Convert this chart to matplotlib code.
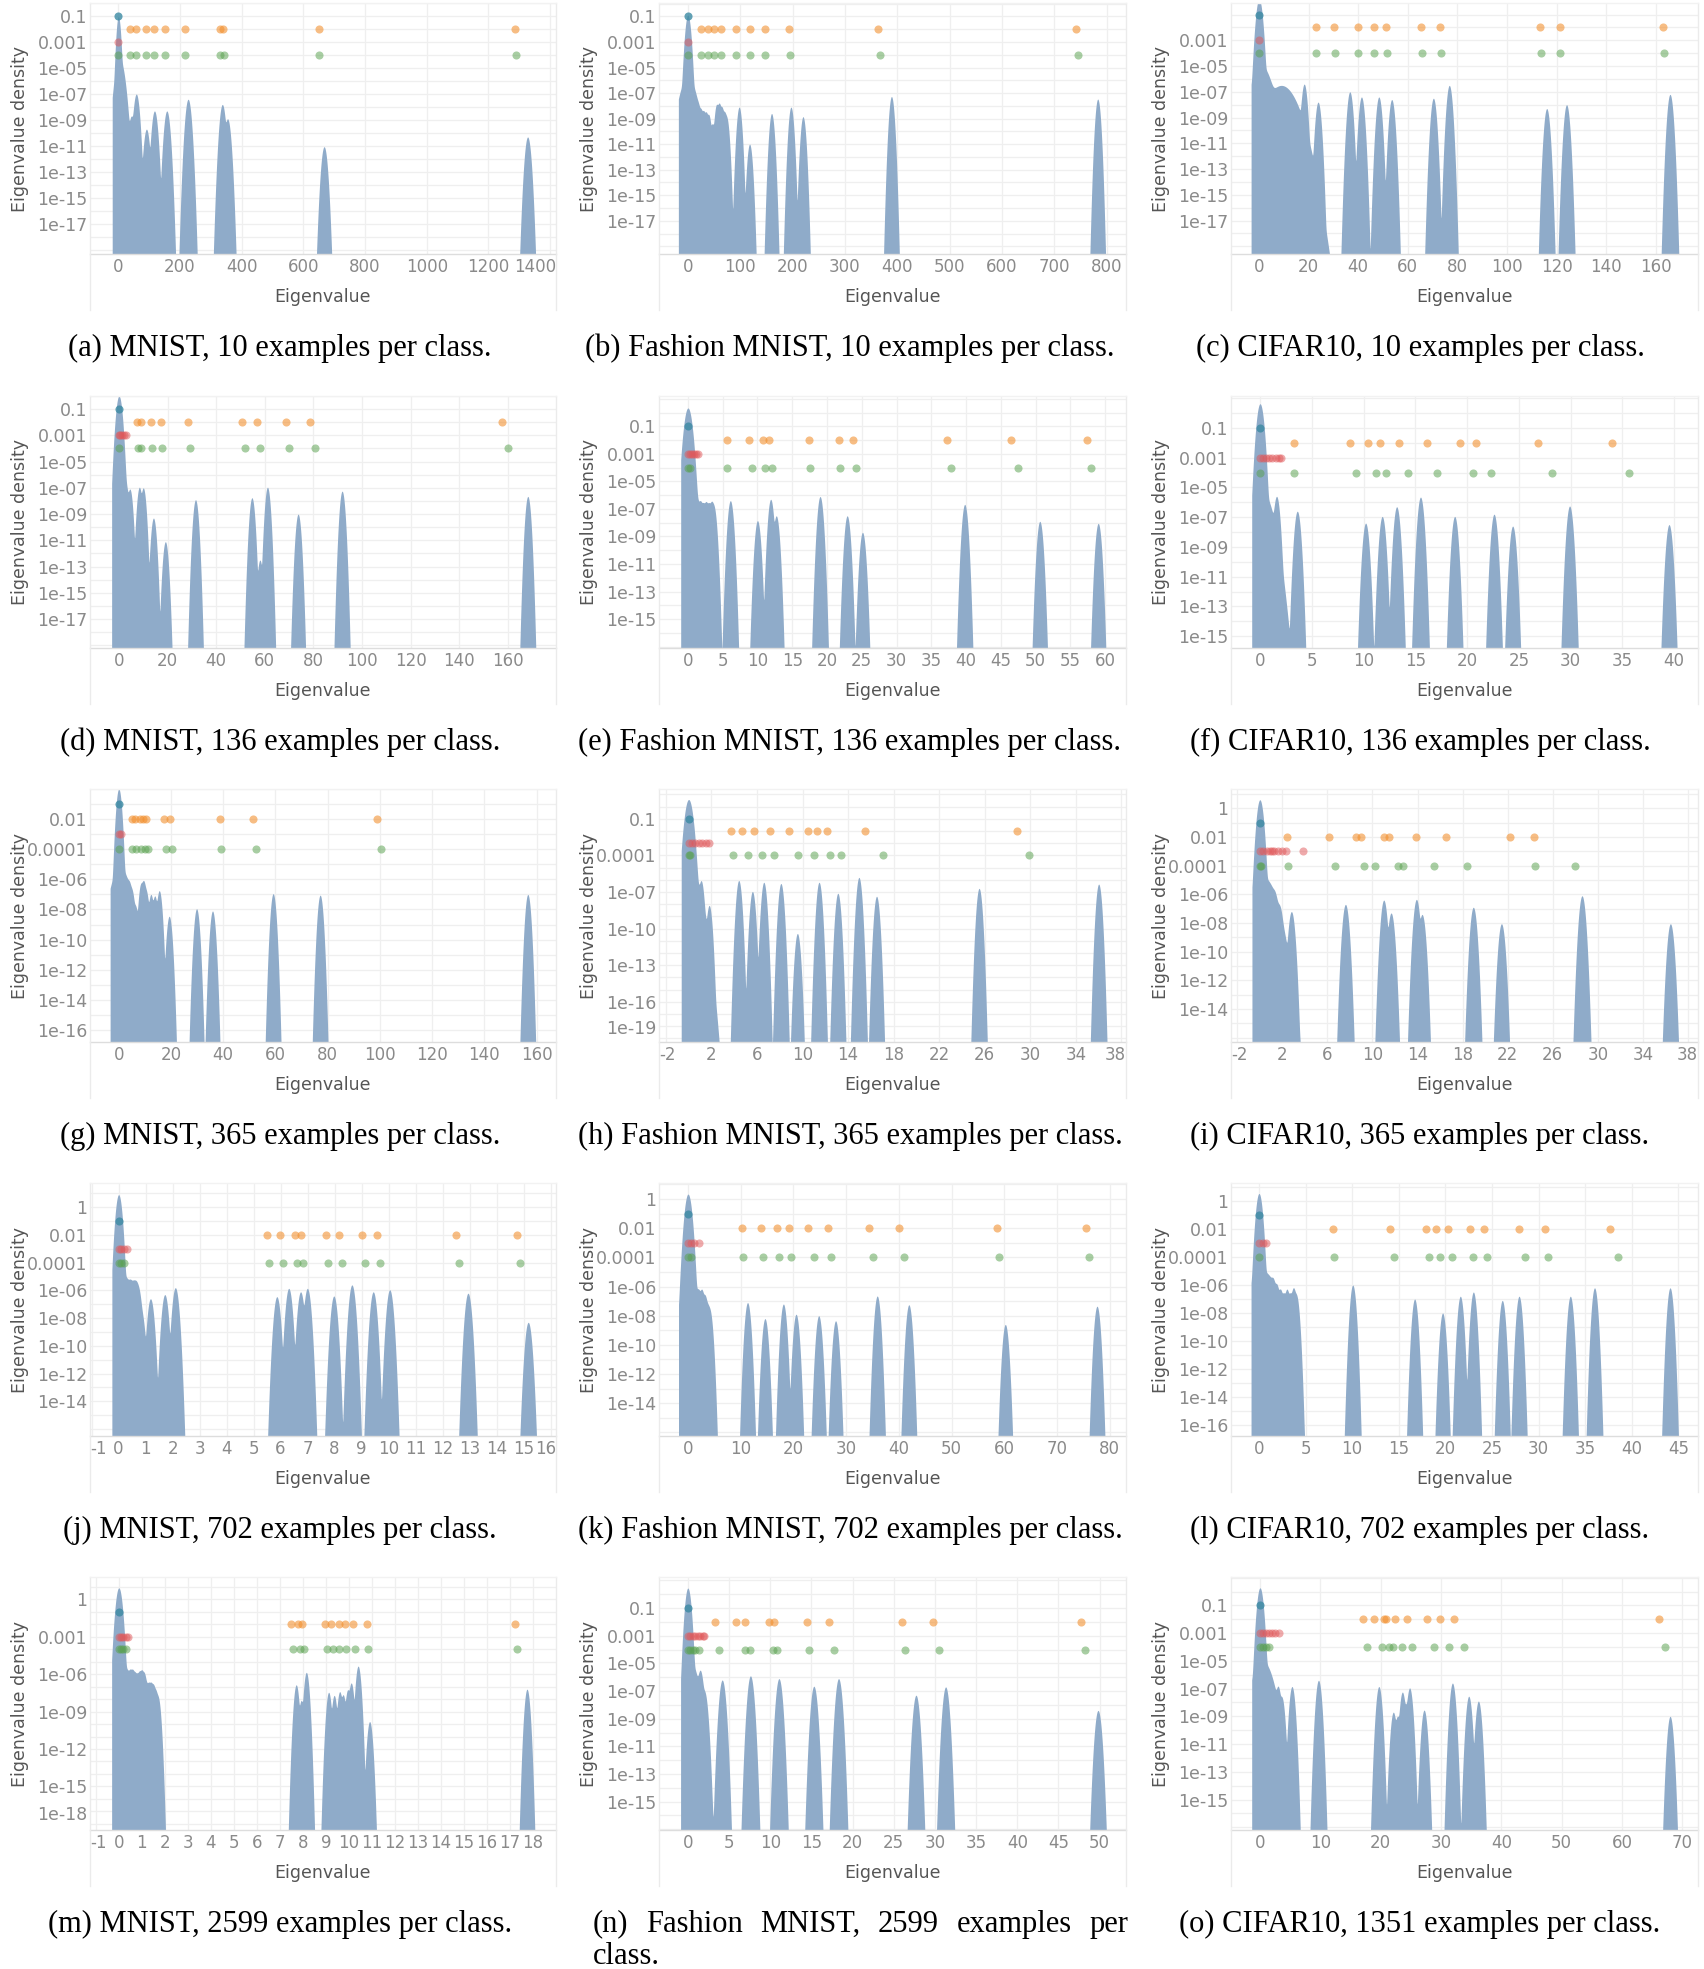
import matplotlib
matplotlib.use("Agg")
import matplotlib.pyplot as plt
import numpy as np
from matplotlib.lines import Line2D
from matplotlib.ticker import NullLocator

plt.rcParams["font.family"] = ["DejaVu Sans"]

PANELS = "abcdefghijklmno"

CAPTIONS = {
    "a": "(a) MNIST, 10 examples per class.",
    "b": "(b) Fashion MNIST, 10 examples per class.",
    "c": "(c) CIFAR10, 10 examples per class.",
    "d": "(d) MNIST, 136 examples per class.",
    "e": "(e) Fashion MNIST, 136 examples per class.",
    "f": "(f) CIFAR10, 136 examples per class.",
    "g": "(g) MNIST, 365 examples per class.",
    "h": "(h) Fashion MNIST, 365 examples per class.",
    "i": "(i) CIFAR10, 365 examples per class.",
    "j": "(j) MNIST, 702 examples per class.",
    "k": "(k) Fashion MNIST, 702 examples per class.",
    "l": "(l) CIFAR10, 702 examples per class.",
    "m": "(m) MNIST, 2599 examples per class.",
    "n": "(n) Fashion MNIST, 2599 examples per class.",
    "o": "(o) CIFAR10, 1351 examples per class.",
}

X_TICKS = {
    "a": list(range(0, 1401, 200)),
    "b": list(range(0, 801, 100)),
    "c": list(range(0, 161, 20)),
    "d": list(range(0, 161, 20)),
    "e": list(range(0, 61, 5)),
    "f": list(range(0, 41, 5)),
    "g": list(range(0, 161, 20)),
    "h": list(range(-2, 39, 4)),
    "i": list(range(-2, 39, 4)),
    "j": list(range(-1, 17)),
    "k": list(range(0, 81, 10)),
    "l": list(range(0, 46, 5)),
    "m": list(range(-1, 19)),
    "n": list(range(0, 51, 5)),
    "o": list(range(0, 71, 10)),
}

# exponents (base 10) of the labelled density ticks
Y_TICK_EXP = {
    "a": list(range(-1, -18, -2)),
    "b": list(range(-1, -18, -2)),
    "c": list(range(-3, -18, -2)),
    "d": list(range(-1, -18, -2)),
    "e": list(range(-1, -16, -2)),
    "f": list(range(-1, -16, -2)),
    "g": list(range(-2, -17, -2)),
    "h": list(range(-1, -20, -3)),
    "i": list(range(0, -15, -2)),
    "j": list(range(0, -15, -2)),
    "k": list(range(0, -15, -2)),
    "l": list(range(0, -17, -2)),
    "m": list(range(0, -19, -3)),
    "n": list(range(-1, -16, -2)),
    "o": list(range(-1, -16, -2)),
}

# spectral density: broad components around zero (own widths) ...
SPIKE_X = {
    "a": [0, 4], "b": [0, 0], "c": [0, 1, 9], "d": [0, 0.5], "e": [0, 0.3],
    "f": [0, 0.2], "g": [0, 0.5], "h": [0, 0.3], "i": [0, 0.3], "j": [0, 0.1],
    "k": [0, 0.3], "l": [0, 0.4], "m": [0, 0.1], "n": [0, 0.3], "o": [0, 0.4],
}
SPIKE_LOGY = {
    "a": [-1.05, -4.3], "b": [-0.9, -5.8], "c": [0.2, -5.0, -6.5], "d": [0.0, -5.2],
    "e": [0.33, -5.2], "f": [0.63, -5.3], "g": [0.0, -5.2], "h": [0.59, -5.6],
    "i": [0.6, -4.8], "j": [0.91, -4.8], "k": [0.34, -5.3], "l": [0.55, -5.0],
    "m": [0.93, -5.2], "n": [0.45, -4.9], "o": [0.27, -5.0],
}
SPIKE_SIGMA = {
    "a": [3.0, 6.5], "b": [2.3, 6.5], "c": [0.55, 1.6, 2.5], "d": [0.54, 1.0],
    "e": [0.25, 0.5], "f": [0.15, 0.4], "g": [0.46, 1.5], "h": [0.148, 0.3],
    "i": [0.13, 0.45], "j": [0.05, 0.18], "k": [0.3, 0.65], "l": [0.15, 0.6],
    "m": [0.06, 0.2], "n": [0.16, 0.38], "o": [0.23, 0.7],
}

# ... and the narrow humps (shared kernel width per panel)
HUMP_X = {
    "a": [42, 58, 91, 117, 157, 226, 337, 354, 667, 1327],
    "b": [20, 25, 30, 35, 40, 47, 55, 60, 65, 70, 74, 98, 118, 160, 197, 220, 389, 783],
    "c": [18.2, 23.8, 36.6, 41.3, 48.3, 53.5, 70.3, 76.7, 116, 124, 165.7],
    "d": [4.5, 8.4, 10.0, 14.2, 19.1, 31.5, 54.7, 58.0, 61.1, 73.7, 91.8, 168.2],
    "e": [1.8, 2.2, 2.6, 3.0, 3.4, 3.7, 6.1, 10.0, 11.9, 12.7, 19.0, 22.9, 25.1, 39.8, 50.6, 59.0],
    "f": [1.6, 3.6, 10.2, 11.8, 13.2, 15.5, 18.8, 22.6, 24.4, 29.9, 39.5],
    "g": [4.0, 5.0, 6.4, 8.5, 9.5, 10.5, 12.3, 13.8, 15.5, 19.3, 29.8, 35.9, 59.1, 77.1, 156.6],
    "h": [1.1, 1.8, 4.4, 5.6, 6.6, 8.1, 9.55, 11.45, 13.1, 14.95, 16.5, 25.5, 36.0],
    "i": [1.3, 1.75, 2.8, 7.6, 11.0, 11.65, 13.9, 14.4, 18.95, 21.45, 28.6, 36.45],
    "j": [0.44, 0.55, 0.64, 0.72, 0.84, 1.18, 1.71, 2.1, 5.86, 6.3, 6.74, 6.99,
          7.97, 8.64, 9.43, 10.04, 12.94, 15.17],
    "k": [2.0, 2.6, 3.2, 3.7, 4.1, 11.3, 14.6, 18.1, 20.5, 24.8, 28.0, 35.9, 41.9, 60.2, 77.6],
    "l": [1.5, 1.9, 2.3, 2.65, 3.0, 3.35, 3.7, 4.0, 10.06, 16.7, 19.7, 21.6, 23.0,
          26.1, 27.9, 33.4, 36.0, 44.1],
    "m": [0.5, 0.6, 0.7, 0.8, 0.9, 1.0, 1.1, 1.2, 1.3, 1.4, 1.5, 1.6, 1.7, 7.71, 7.93,
          8.15, 9.12, 9.36, 9.6, 9.75, 9.95, 10.1, 10.4, 10.9, 17.74],
    "n": [1.5, 2.0, 4.17, 7.6, 11.06, 15.3, 18.3, 27.7, 31.3, 49.8],
    "o": [3.0, 3.6, 5.3, 9.7, 19.7, 22.1, 22.8, 23.6, 24.2, 24.8, 27.2, 31.9, 34.6, 36.2, 67.97],
}
HUMP_LOGY = {
    "a": [-8.7, -7.0, -9.7, -8.3, -8.3, -7.4, -7.8, -8.9, -11.05, -10.3],
    "b": [-8.2, -8.3, -8.4, -8.5, -8.7, -9.4, -7.9, -7.8, -8.1, -8.5, -8.9, -8.1, -11.0,
          -8.6, -8.1, -8.85, -7.27, -7.47],
    "c": [-6.4, -7.8, -7.0, -7.4, -7.4, -7.6, -7.5, -6.5, -8.3, -8.0, -7.2],
    "d": [-7.1, -6.95, -7.0, -9.3, -11.1, -7.9, -7.75, -12.5, -6.95, -9.0, -7.25, -7.65],
    "e": [-6.5, -6.6, -6.5, -6.6, -6.5, -6.8, -6.4, -7.85, -6.3, -7.5, -6.1, -7.5, -8.7,
          -6.67, -7.9, -8.05],
    "f": [-5.6, -6.6, -7.4, -6.95, -6.3, -5.65, -6.95, -6.8, -7.6, -6.25, -7.5],
    "g": [-6.4, -6.8, -7.8, -6.3, -6.1, -6.8, -7.0, -7.1, -6.75, -8.45, -7.95, -8.1,
          -6.95, -7.05, -7.0],
    "h": [-6.1, -8.1, -6.05, -6.95, -6.2, -6.3, -10.4, -6.2, -7.1, -5.8, -7.35, -6.7, -6.35],
    "i": [-6.2, -7.0, -7.2, -6.7, -6.4, -7.3, -6.35, -7.4, -6.9, -8.05, -6.1, -8.05],
    "j": [-5.45, -5.4, -5.4, -5.8, -7.6, -6.6, -6.3, -5.8, -6.45, -5.85, -6.1, -5.85,
          -6.4, -5.6, -6.1, -5.95, -6.2, -8.3],
    "k": [-6.3, -6.2, -6.6, -7.3, -7.6, -7.1, -8.2, -7.2, -7.9, -8.0, -8.35, -6.65,
          -7.25, -8.6, -7.35],
    "l": [-5.8, -6.1, -6.35, -6.6, -6.3, -6.6, -6.2, -6.7, -6.0, -7.0, -8.0, -6.8, -6.5,
          -7.1, -6.8, -6.8, -6.2, -6.2],
    "m": [-5.8, -5.7, -5.9, -6.0, -5.8, -5.7, -5.9, -6.8, -6.7, -6.7, -6.85, -7.3, -7.8,
          -6.85, -8.1, -5.85, -7.45, -7.7, -7.4, -7.65, -7.25, -6.7, -5.35, -9.8, -7.2],
    "n": [-5.5, -7.0, -6.2, -5.9, -6.1, -6.65, -6.1, -7.3, -6.7, -8.4],
    "o": [-6.85, -7.6, -6.85, -6.4, -6.85, -8.7, -9.0, -7.25, -8.2, -6.95, -8.55, -6.6,
          -7.55, -7.9, -9.0],
}
KERNEL_SIGMA = {
    "a": 4.0, "b": 2.0, "c": 0.47, "d": 0.45, "e": 0.17, "f": 0.126, "g": 0.45,
    "h": 0.095, "i": 0.117, "j": 0.05, "k": 0.234, "l": 0.129, "m": 0.047,
    "n": 0.16, "o": 0.2,
}
DENSITY_START = {
    "a": -20, "b": -18, "c": -3.2, "d": -3.0, "e": -1.04, "f": -0.8, "g": -3.3,
    "h": -0.65, "i": -0.7, "j": -0.25, "k": -1.8, "l": -0.85, "m": -0.31,
    "n": -0.88, "o": -1.37,
}

# eigenvalue markers
ORANGE_X = {
    "a": [38, 56, 89, 117, 152, 215, 331, 339, 649, 1287],
    "b": [25, 38, 51, 63, 92, 118, 147, 194, 364, 741],
    "c": [23, 30.2, 39.8, 46.2, 51.2, 65.4, 73, 113.4, 121.2, 162.8],
    "d": [7.3, 8.9, 13.2, 17.2, 28.3, 50.6, 57.0, 68.8, 78.6, 157.6],
    "e": [5.56, 8.8, 10.76, 11.7, 17.4, 21.7, 23.7, 37.2, 46.4, 57.4],
    "f": [3.32, 8.72, 10.4, 11.6, 13.4, 16.1, 19.3, 20.9, 26.8, 34.0],
    "g": [5, 6.4, 8, 9.4, 10.5, 17.4, 19.6, 38.7, 51.4, 98.9],
    "h": [3.7, 4.7, 5.75, 7.15, 8.8, 10.45, 11.3, 12.15, 15.5, 28.8],
    "i": [2.4, 6.13, 8.5, 8.97, 11.0, 11.5, 13.9, 16.5, 22.25, 24.3],
    "j": [5.48, 5.99, 6.52, 6.76, 7.69, 8.18, 9.01, 9.56, 12.51, 14.76],
    "k": [10.2, 13.8, 16.8, 19.2, 22.8, 26.5, 34.4, 40.0, 58.7, 75.6],
    "l": [7.9, 14.1, 17.9, 19.0, 20.3, 22.6, 24.1, 27.9, 30.7, 37.7],
    "m": [7.5, 7.8, 7.95, 8.97, 9.23, 9.55, 9.83, 10.17, 10.8, 17.24],
    "n": [3.25, 5.9, 6.9, 9.9, 10.5, 14.5, 17.2, 26.0, 29.8, 47.7],
    "o": [17.05, 18.95, 20.5, 20.9, 22.4, 24.3, 27.75, 29.8, 32.1, 66.1],
}
GREEN_X = {
    "a": [0, 38, 56, 89, 117, 152, 215, 331, 341, 649, 1290],
    "b": [0, 25, 38, 51, 63, 93, 118, 147, 195, 368, 745],
    "c": [0, 23, 30.5, 39.8, 46.5, 51.5, 65.7, 73.3, 113.7, 121.5, 163.4],
    "d": [0, 7.7, 9.2, 13.6, 17.8, 29.1, 51.8, 58.0, 70.0, 80.6, 160.2],
    "e": [0, 0.3, 5.56, 9.15, 11.1, 12.1, 17.6, 21.9, 24.1, 37.9, 47.4, 57.9],
    "f": [0, 3.32, 9.27, 11.2, 12.2, 14.3, 17.1, 20.6, 22.3, 28.2, 35.6],
    "g": [0, 5, 6.6, 8.6, 9.9, 11.3, 18.2, 20.4, 39.2, 52.5, 100.3],
    "h": [0, 0.1, 3.9, 5.2, 6.45, 7.5, 9.6, 11.0, 12.4, 13.4, 17.05, 29.9],
    "i": [0, 0.1, 2.47, 6.67, 9.28, 10.2, 12.3, 12.7, 15.5, 18.4, 24.4, 28.0],
    "j": [0, 0.1, 0.2, 5.57, 6.08, 6.6, 6.83, 7.77, 8.29, 9.12, 9.68, 12.61, 14.87],
    "k": [0, 0.5, 10.5, 14.2, 17.3, 19.6, 23.9, 27.1, 35.1, 40.9, 59.1, 76.0],
    "l": [0, 8.05, 14.5, 18.2, 19.4, 20.7, 23.0, 24.5, 28.5, 31.0, 38.5],
    "m": [0, 0.1, 0.2, 0.3, 7.55, 7.87, 8.03, 9.04, 9.31, 9.59, 9.87, 10.25, 10.85, 17.32],
    "n": [0, 0.3, 0.6, 0.9, 1.3, 3.8, 6.9, 7.5, 10.3, 10.8, 14.7, 17.7, 26.4, 30.5, 48.2],
    "o": [0, 0.5, 1.0, 1.5, 17.8, 20.3, 21.4, 22.0, 23.6, 25.2, 28.9, 31.3, 33.8, 67.1],
}
RED_X = {
    "a": [0], "b": [0], "c": [0],
    "d": [0, 0.6, 1.2, 2.0, 3.0],
    "e": [0, 0.3, 0.6, 0.9, 1.2, 1.5],
    "f": [0, 0.3, 0.6, 0.9, 1.2, 1.5, 1.8, 2.0],
    "g": [0, 1],
    "h": [0, 0.3, 0.6, 0.9, 1.2, 1.5, 1.8],
    "i": [0, 0.3, 0.6, 0.9, 1.1, 1.3, 1.6, 2.0, 2.3, 3.8],
    "j": [0, 0.1, 0.2, 0.3],
    "k": [0, 0.5, 1.2, 2.0],
    "l": [0, 0.4, 0.8],
    "m": [0, 0.1, 0.2, 0.3, 0.4],
    "n": [0, 0.3, 0.6, 0.9, 1.2, 1.5, 1.8, 2.0],
    "o": [0, 0.5, 1.0, 1.5, 2.0, 2.5, 3.2],
}
TEAL_X = {k: [0] for k in PANELS}

DOT_LEVEL = {"teal": 1e-1, "orange": 1e-2, "red": 1e-3, "green": 1e-4}

# ---- layout (pixels of the 1704 x 1969 output) ----
FIG_W, FIG_H, DPI = 1704, 1969, 100
COL_LEFT = [90, 659, 1231]
COL_RIGHT = [556, 1126, 1698]
ROW_TOP = [3, 396, 789, 1183, 1577]
ROW_BOTTOM = [254, 648, 1042, 1436, 1830]
CAPTION_X = [280, 850, 1420]

XLIM = {
    "a": (-92, 1419), "b": (-55, 837), "c": (-11.3, 177), "d": (-11.9, 179.8),
    "e": (-4.16, 63.0), "f": (-2.8, 42.3), "g": (-11, 167.4), "h": (-2.6, 38.4),
    "i": (-2.56, 38.9), "j": (-1.06, 16.2), "k": (-5.5, 83.1), "l": (-3.0, 47.1),
    "m": (-1.25, 19.0), "n": (-3.5, 53.2), "o": (-4.8, 72.6),
}
YLIM_EXP = {
    "a": (-19.3, 0.0), "b": (-19.6, 0.05), "c": (-19.6, -0.1), "d": (-19.2, 0.0),
    "e": (-17.1, 1.2), "f": (-15.8, 1.15), "g": (-16.8, 0.0), "h": (-19.3, 1.45),
    "i": (-16.3, 1.35), "j": (-16.5, 1.75), "k": (-16.25, 1.1), "l": (-16.8, 1.3),
    "m": (-18.5, 1.8), "n": (-17.05, 1.25), "o": (-17.2, 1.05),
}

AREA_COLOR = "#8fabc9"
GRID_COLOR = "#efefef"
TICK_COLOR = "#8a8a8a"
TITLE_COLOR = "#555555"
SERIF = ["Liberation Serif", "DejaVu Serif"]
LABEL_SIZE = 12.5
XTICK_SIZE = 12
CAPTION_SIZE = 22
XTICK_PAD = 3
DOT_SIZE = 34


def density_label(e):
    if e >= -4:
        return f"{10.0 ** e:.{max(-e, 0)}f}"
    return f"1e-{-e:02d}"


def spectral_density(key, x):
    total = np.zeros_like(x)
    for c, lp, s in zip(SPIKE_X[key], SPIKE_LOGY[key], SPIKE_SIGMA[key]):
        total += 10.0 ** lp * np.exp(-0.5 * ((x - c) / s) ** 2)
    sig = KERNEL_SIGMA[key]
    for c, lp in zip(HUMP_X[key], HUMP_LOGY[key]):
        total += 10.0 ** lp * np.exp(-0.5 * ((x - c) / sig) ** 2)
    return total


fig = plt.figure(figsize=(FIG_W / DPI, FIG_H / DPI), dpi=DPI)

for idx, key in enumerate(PANELS):
    row, col = divmod(idx, 3)
    left, right = COL_LEFT[col], COL_RIGHT[col]
    top, bottom = ROW_TOP[row], ROW_BOTTOM[row]
    w_px, h_px = right - left, bottom - top
    ax = fig.add_axes([left / FIG_W, 1 - bottom / FIG_H, w_px / FIG_W, h_px / FIG_H])

    x0, x1 = XLIM[key]
    lo, hi = YLIM_EXP[key]
    ax.set_yscale("log")
    ax.set_xlim(x0, x1)
    ax.set_ylim(10.0 ** lo, 10.0 ** hi)

    # light Tableau-like grid
    for e in range(int(np.ceil(lo)), int(np.floor(hi)) + 1):
        ax.axhline(10.0 ** e, color=GRID_COLOR, lw=0.9, zorder=0)
    for t in X_TICKS[key]:
        ax.axvline(t, color=GRID_COLOR, lw=0.9, zorder=0)

    xs = np.linspace(DENSITY_START[key], x1, 9000)
    ys = np.maximum(spectral_density(key, xs), 1e-80)
    ax.fill_between(xs, 1e-80, ys, color=AREA_COLOR, lw=0, zorder=1)

    ax.scatter(TEAL_X[key], [DOT_LEVEL["teal"]] * len(TEAL_X[key]), s=DOT_SIZE,
               color="#3b8aa3", alpha=0.8, lw=0, zorder=3)
    ax.scatter(ORANGE_X[key], [DOT_LEVEL["orange"]] * len(ORANGE_X[key]), s=DOT_SIZE,
               color="#f28e2b", alpha=0.58, lw=0, zorder=3)
    ax.scatter(RED_X[key], [DOT_LEVEL["red"]] * len(RED_X[key]), s=DOT_SIZE,
               color="#e15759", alpha=0.5, lw=0, zorder=3)
    ax.scatter(GREEN_X[key], [DOT_LEVEL["green"]] * len(GREEN_X[key]), s=DOT_SIZE,
               color="#59a14f", alpha=0.52, lw=0, zorder=3)

    # x tick labels; those that would spill past the pane are pinned to its edge
    xlabels = []
    for t in X_TICKS[key]:
        frac = (t - x0) / (x1 - x0)
        half = 5.5 * len(str(t))
        if frac * w_px < half:
            ax.annotate(str(t), xy=(0, 0), xycoords="axes fraction",
                        xytext=(0, -XTICK_PAD), textcoords="offset points",
                        ha="left", va="top", fontsize=XTICK_SIZE, color=TICK_COLOR)
            xlabels.append("")
        elif (1 - frac) * w_px < half:
            ax.annotate(str(t), xy=(1, 0), xycoords="axes fraction",
                        xytext=(0, -XTICK_PAD), textcoords="offset points",
                        ha="right", va="top", fontsize=XTICK_SIZE, color=TICK_COLOR)
            xlabels.append("")
        else:
            xlabels.append(str(t))
    ax.set_xticks(X_TICKS[key])
    ax.set_xticklabels(xlabels)
    ax.set_yticks([10.0 ** e for e in Y_TICK_EXP[key]])
    ax.set_yticklabels([density_label(e) for e in Y_TICK_EXP[key]])
    ax.yaxis.set_minor_locator(NullLocator())
    ax.tick_params(axis="both", length=0, colors=TICK_COLOR)
    ax.tick_params(axis="x", pad=XTICK_PAD, labelsize=XTICK_SIZE)
    ax.tick_params(axis="y", pad=2, labelsize=LABEL_SIZE)

    for lab, e in zip(ax.get_yticklabels(), Y_TICK_EXP[key]):
        if (e - lo) / (hi - lo) * h_px < 8:
            lab.set_verticalalignment("bottom")

    for side in ("left", "right", "top"):
        ax.spines[side].set_visible(False)
    ax.spines["bottom"].set_color("#dddddd")
    ax.spines["bottom"].set_linewidth(1.0)

    ax.text(0.5, -43 / h_px, "Eigenvalue", transform=ax.transAxes, ha="center",
            va="center", fontsize=LABEL_SIZE, color=TITLE_COLOR)
    ax.text(-70 / w_px, 0.5, "Eigenvalue density", transform=ax.transAxes, ha="center",
            va="center", rotation=90, fontsize=LABEL_SIZE, color=TITLE_COLOR)

    # pane borders running down past the axis title
    for xp in (left, right):
        fig.add_artist(Line2D([xp / FIG_W] * 2, [1 - top / FIG_H, 1 - (bottom + 56) / FIG_H],
                              transform=fig.transFigure, color="#ebebeb", lw=1.0))
    fig.add_artist(Line2D([left / FIG_W, right / FIG_W], [1 - top / FIG_H] * 2,
                          transform=fig.transFigure, color="#f2f2f2", lw=1.0))

    cap_y = 1 - (bottom + 94) / FIG_H
    if key != "n":
        fig.text(CAPTION_X[col] / FIG_W, cap_y, CAPTIONS[key], ha="center", va="center",
                 fontsize=CAPTION_SIZE, family=SERIF, color="black")
    else:
        # justified caption that wraps onto a second line
        words = CAPTIONS[key].split()
        renderer = fig.canvas.get_renderer()
        j_left, j_right = 593, 1128
        texts = [fig.text(0, cap_y, w, ha="left", va="center", fontsize=CAPTION_SIZE,
                          family=SERIF, color="black") for w in words[:-1]]
        widths = [t.get_window_extent(renderer).width for t in texts]
        gap = (j_right - j_left - sum(widths)) / (len(widths) - 1)
        pos = j_left
        for t, wd in zip(texts, widths):
            t.set_x(pos / FIG_W)
            pos += wd + gap
        fig.text(j_left / FIG_W, 1 - (bottom + 126) / FIG_H, words[-1], ha="left",
                 va="center", fontsize=CAPTION_SIZE, family=SERIF, color="black")

fig.savefig("out.png", dpi=DPI)
